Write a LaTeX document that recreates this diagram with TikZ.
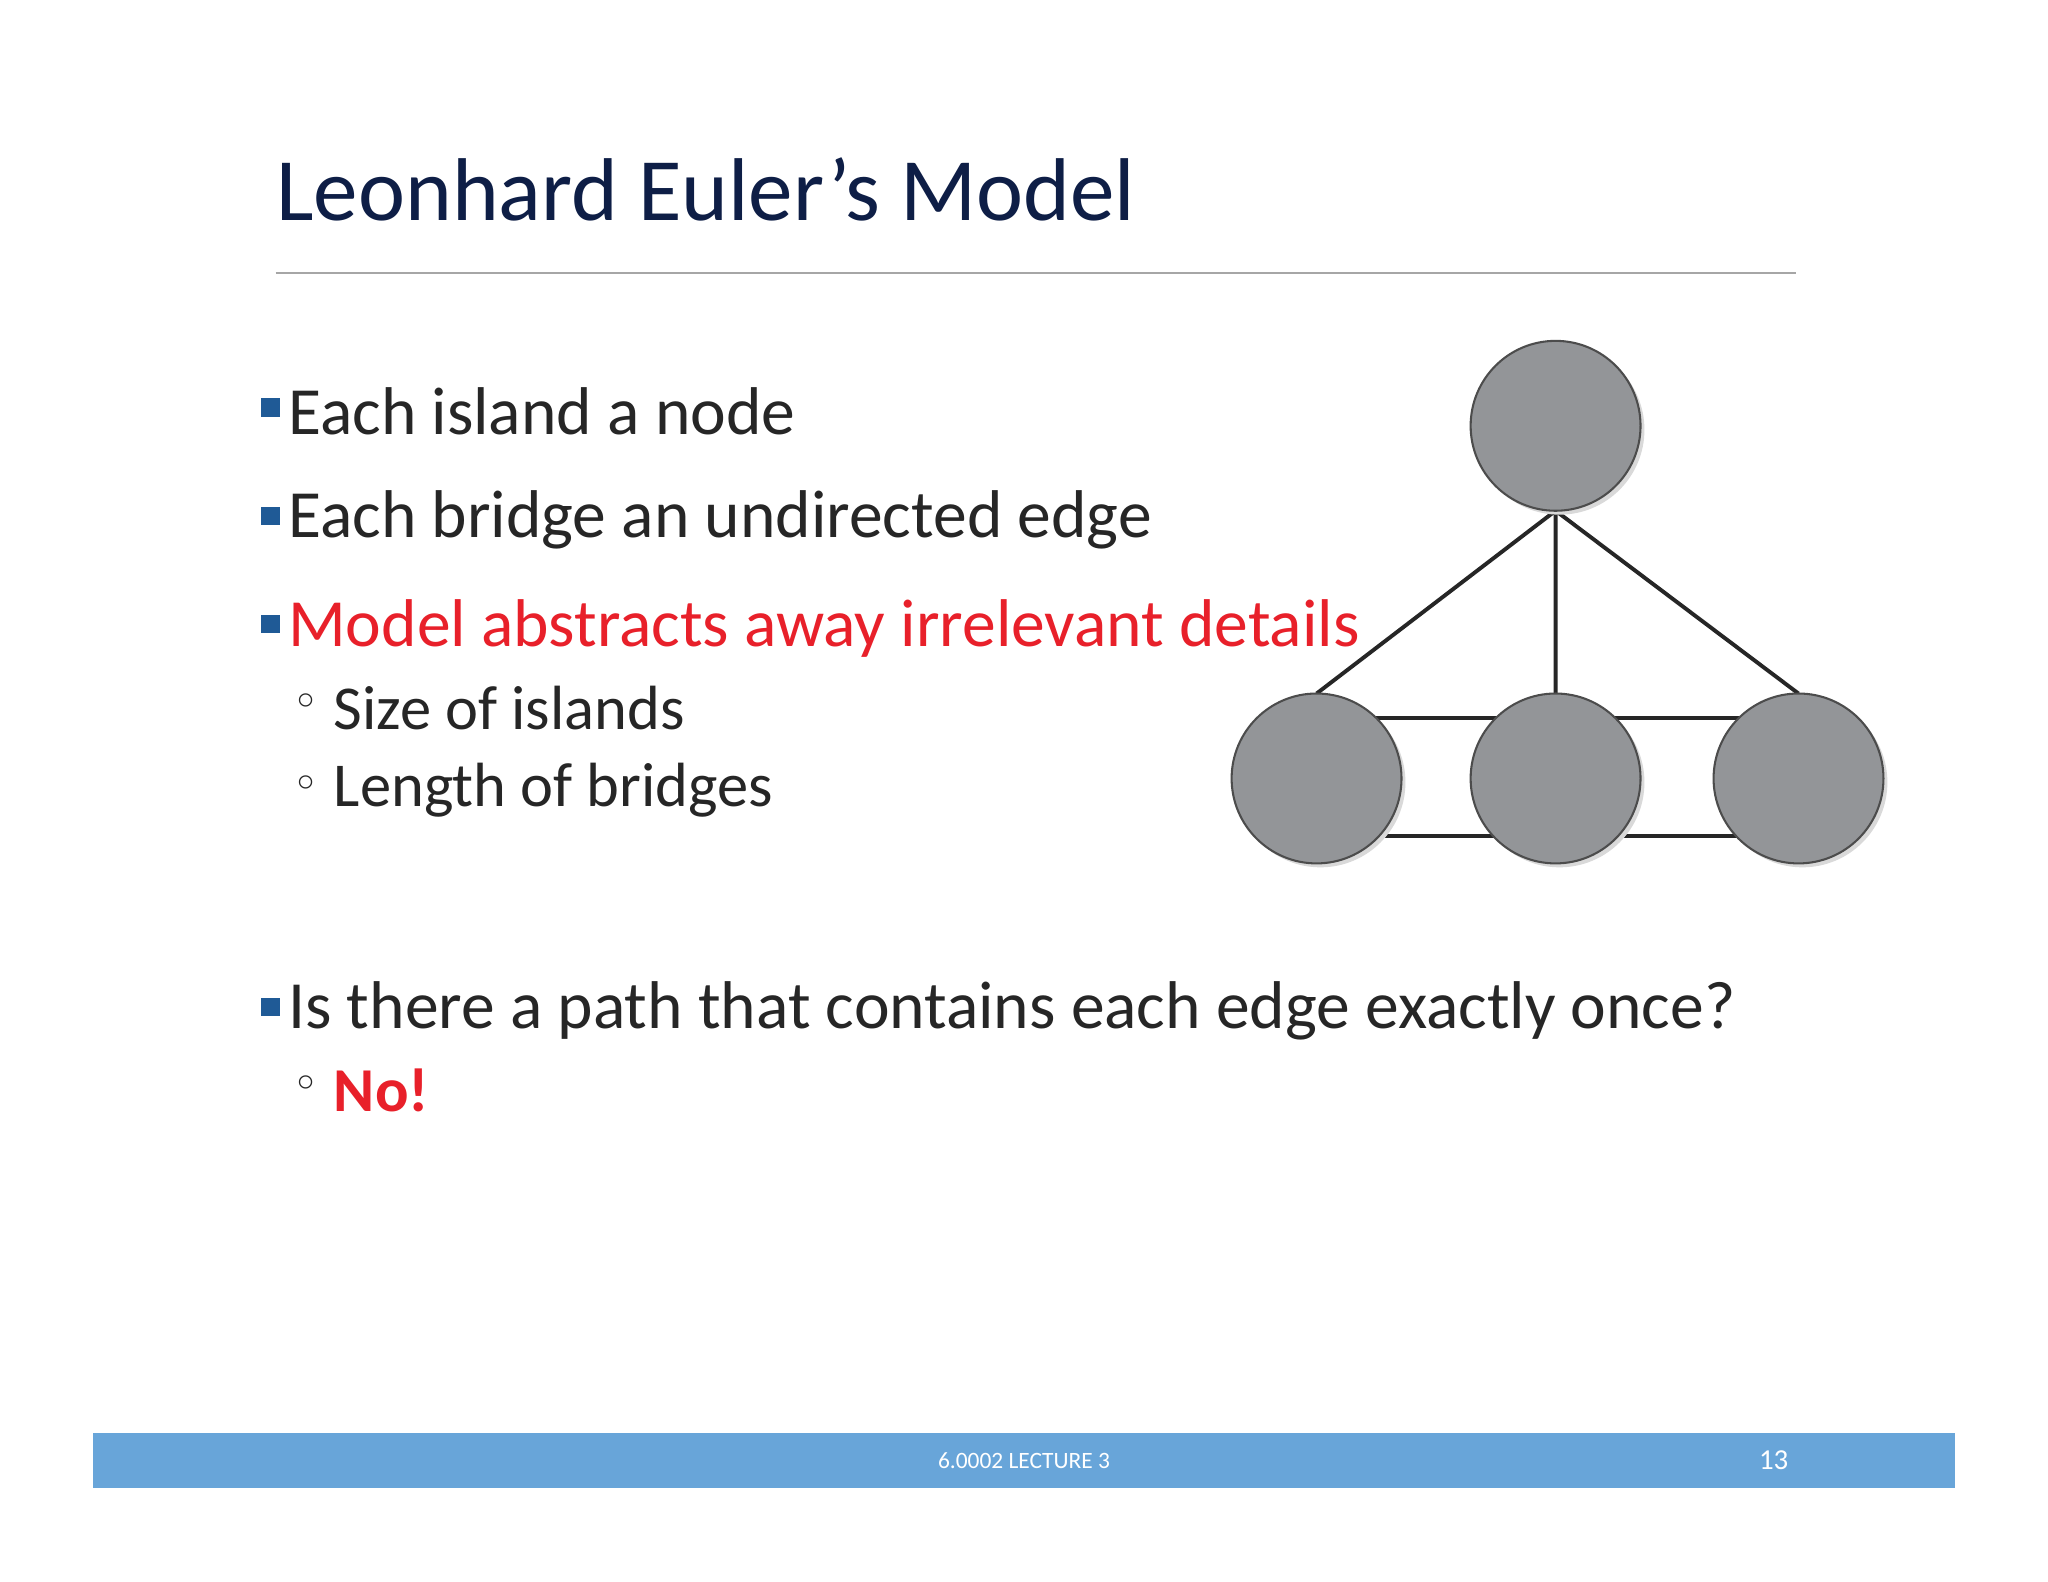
\documentclass[tikz,border=0pt]{standalone}
\usepackage{fontspec}
\setmainfont{Carlito}
\newfontfamily\dejavu{DejaVu Sans}
\definecolor{titlec}{HTML}{0E1E46}
\definecolor{txt}{HTML}{262626}
\definecolor{redc}{HTML}{E8202A}
\definecolor{bul}{HTML}{1F5A96}
\definecolor{barc}{HTML}{68A5D9}
\definecolor{nodefill}{HTML}{939598}
\begin{document}
\begin{tikzpicture}[x=0.01cm,y=-0.01cm,
  body/.style={anchor=west,inner sep=0,font=\fontsize{14.7}{17}\selectfont,text=txt},
  sub/.style={anchor=west,inner sep=0,font=\fontsize{13.6}{16}\selectfont,text=txt},
  sq/.style={fill=bul,minimum size=0.14cm,inner sep=0},
  circ/.style={anchor=center,inner sep=0,font=\fontsize{10}{11}\selectfont,text=txt},
  island/.style={circle,draw=black!70,line width=0.45pt,fill=nodefill,minimum size=1.3cm,inner sep=0,
     preaction={fill=black!15,transform canvas={shift={(0.03cm,-0.03cm)}}}},
  bridge/.style={line width=0.85pt,draw=black!85}]
\useasboundingbox (0,0) rectangle (1568,1211);
\fill[white] (0,0) rectangle (1568,1211);
\node[anchor=west,inner sep=0,text=titlec,font=\fontsize{19.4}{22}\selectfont] (title) at (211,145) {Leonhard Euler’s Model};
\draw[black!35,line width=0.3pt] (211,209) -- (1375,209);
% bullets
\node[sq] (b1) at (207,312) {};
\node[body] (t1) at (220,315) {Each island a node};
\node[sq] (b2) at (207,395) {};
\node[body] (t2) at (220,398) {Each bridge an undirected edge};
\node[sq] (b3) at (207,478) {};
\node[body,text=redc] (t3) at (220,481) {Model abstracts away irrelevant details};
\node[circ] (c1) at (234,540) {\dejavu ◦};
\node[sub] (s1) at (255,542) {Size of islands};
\node[circ] (c2) at (234,603) {\dejavu ◦};
\node[sub] (s2) at (255,605) {Length of bridges};
\node[sq] (b4) at (207,771) {};
\node[body] (t4) at (220,774) {Is there a path that contains each edge exactly once?};
\node[circ] (c3) at (234,833) {\dejavu ◦};
\node[sub,font=\fontsize{13.6}{16}\selectfont\bfseries,text=redc] (s3) at (255,835) {No!};
% graph
\coordinate (top) at (1191,391);
\coordinate (e1) at (1008,531);
\coordinate (e2) at (1191,531);
\coordinate (e3) at (1377,531);
\draw[bridge] (top) -- (e1) (top) -- (e2) (top) -- (e3);
\coordinate (h1a) at (1008,550); \coordinate (h1b) at (1377,550);
\coordinate (h2a) at (1008,640); \coordinate (h2b) at (1377,640);
\draw[bridge] (h1a) -- (h1b) (h2a) -- (h2b);
\node[island] (nt) at (1191,326) {};
\node[island] (n1) at (1008,596) {};
\node[island] (n2) at (1191,596) {};
\node[island] (n3) at (1377,596) {};
% footer
\fill[barc] (71,1097) rectangle (1497,1139);
\node[anchor=center,text=white,font=\fontsize{5.1}{6}\selectfont] (foot) at (784,1118) {6.0002 LECTURE 3};
\node[anchor=center,text=white,font=\fontsize{6.3}{7}\selectfont] (pg) at (1358,1118) {13};
\end{tikzpicture}
\end{document}
